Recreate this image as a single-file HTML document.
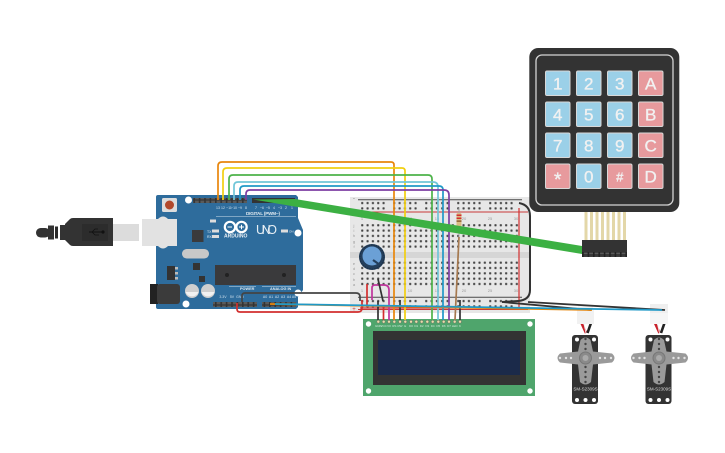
<!DOCTYPE html>
<html><head><meta charset="utf-8"><style>
html,body{margin:0;padding:0;background:#fff;width:725px;height:453px;overflow:hidden}
svg{display:block}
text{font-family:"Liberation Sans",sans-serif}
</style></head><body>
<svg width="725" height="453" viewBox="0 0 725 453" xmlns="http://www.w3.org/2000/svg">
<defs>
<pattern id="h" patternUnits="userSpaceOnUse" width="5.33" height="5.33"><rect x="1.6" y="1.6" width="2.1" height="2.1" rx=".6" fill="#444"/></pattern>
<pattern id="p" patternUnits="userSpaceOnUse" width="5.4" height="5"><rect x=".6" y=".6" width="3.8" height="3.8" fill="#5a5a5a"/></pattern>
<g id="servo">
<rect x="572" y="335" width="26" height="69" rx="3" fill="#333"/>
<circle cx="577" cy="339.5" r="2" fill="#fff"/><circle cx="594" cy="339.5" r="2" fill="#fff"/>
<circle cx="577" cy="400" r="2" fill="#fff"/><circle cx="585.5" cy="400" r="2" fill="#fff"/><circle cx="594" cy="400" r="2" fill="#fff"/>
<path d="M580.5 340 Q585.5 335 590.5 340 L593 351.500 L612 353.500 Q617 358 612 362.500 L593 364.500 L591 382 Q585.5 387 580 382 L578 364.500 L560 362.500 Q555 358 560 353.500 L578 351.500Z" fill="#9a9a9a"/>
<circle cx="585.5" cy="358" r="6" fill="#8a8a8a" stroke="#777" stroke-width="1"/><circle cx="585.5" cy="358" r="3" fill="#aaa"/>
<g fill="#444"><circle cx="585.5" cy="339" r="1.2"/><circle cx="585.5" cy="344" r="1.2"/><circle cx="585.5" cy="349" r="1.2"/><circle cx="585.5" cy="367" r="1.2"/><circle cx="585.5" cy="372" r="1.2"/><circle cx="585.5" cy="377" r="1.2"/><circle cx="585.5" cy="382" r="1.2"/></g>
<g fill="#e4e4e4"><circle cx="560" cy="358" r="1.2"/><circle cx="566" cy="358" r="1.2"/><circle cx="571" cy="358" r="1.2"/><circle cx="600" cy="358" r="1.2"/><circle cx="605" cy="358" r="1.2"/><circle cx="611" cy="358" r="1.2"/></g>
<text x="585.5" y="390.5" font-size="4.5" fill="#ddd" text-anchor="middle">SM-S2309S</text>
<path d="M581.5 323 L586 333" stroke="#c8202a" stroke-width="2.6"/><path d="M591 323 L587.5 333" stroke="#222" stroke-width="2.6"/>
<path d="M584 324 L586 333" stroke="#eee" stroke-width=".8"/>
</g>
</defs>

<!-- USB cable -->
<rect x="113" y="224" width="26" height="17" fill="#dcdcdc"/>
<rect x="36" y="228" width="14" height="9.5" rx="4.7" fill="#333"/>
<rect x="48" y="225.5" width="6" height="14" fill="#333"/><rect x="55" y="226.5" width="3" height="12" fill="#2a2a2a"/><rect x="60" y="225" width="5" height="15" fill="#333"/>
<path d="M65 224 L70 219 Q71 218 73 218 L113 218 L113 246 L73 246 Q71 246 70 245 L65 240Z" fill="#333"/>
<rect x="82" y="224" width="26" height="17" fill="#2c2c2c"/>
<path d="M89 232 H104" stroke="#111" stroke-width="1"/><circle cx="103" cy="232" r="1.6" fill="#111"/><path d="M92 232 L95 229 H98 M92 232 L95 235 H99" stroke="#111" stroke-width=".8" fill="none"/>

<!-- Arduino -->
<path d="M158 195 H296 L298 197 V218 L303 230 V290 L298 297 V307 L296 309 H158 Q156 309 156 307 V197 Q156 195 158 195Z" fill="#2e6c9c"/>
<rect x="142" y="219" width="35" height="27" fill="#e2e2e2"/>
<path d="M158 219 Q163 214 168 219Z M158 246 Q163 251 168 246Z" fill="#e2e2e2"/>
<rect x="162" y="198" width="15" height="14" rx="1.5" fill="#ddd"/><circle cx="169.5" cy="205" r="4.5" fill="#b2492c"/>
<circle cx="188.5" cy="200" r="3.5" fill="#fff"/><circle cx="298" cy="233" r="3.5" fill="#fff"/><circle cx="186" cy="304" r="3.5" fill="#fff"/><circle cx="298" cy="293" r="3.5" fill="#fff"/>
<rect x="193" y="198" width="54" height="5" fill="#333"/><rect x="193" y="198" width="54" height="5" fill="url(#p)"/>
<rect x="252" y="198" width="43" height="5" fill="#333"/>
<rect x="213" y="302" width="44" height="5" fill="#333"/><rect x="213" y="302" width="44" height="5" fill="url(#p)"/>
<rect x="262" y="302" width="34" height="5" fill="#333"/><rect x="262" y="302" width="34" height="5" fill="url(#p)"/>
<rect x="215" y="265" width="81" height="20" fill="#3a3a3c"/><circle cx="227" cy="275" r="2" fill="#222"/><circle cx="284" cy="275" r="2" fill="#222"/>
<rect x="192" y="230" width="11.5" height="12" fill="#3a3a3c"/>
<rect x="182" y="249" width="27" height="9.5" rx="4.7" fill="#c8c8c8"/>
<rect x="193" y="263" width="7" height="7" fill="#333"/><rect x="167" y="266" width="8" height="14" fill="#333"/><rect x="175" y="267" width="3" height="2.5" fill="#bbb"/><rect x="175" y="272" width="3" height="2.5" fill="#bbb"/><rect x="175" y="277" width="3" height="2.5" fill="#bbb"/>
<rect x="199" y="276" width="6" height="6" fill="#333"/>
<rect x="150" y="284" width="8" height="20" fill="#222"/><rect x="157" y="284" width="23" height="20" rx="3" fill="#3b3b3b"/>
<circle cx="192" cy="291" r="7" fill="#cfcfcf"/><path d="M185.5 292 A7 7 0 0 0 198.5 292Z" fill="#f2f2f2"/><circle cx="208" cy="291" r="7" fill="#cfcfcf"/><path d="M201.5 292 A7 7 0 0 0 214.5 292Z" fill="#f2f2f2"/>
<g fill="none" stroke="#fff" stroke-width="2.2"><circle cx="230" cy="227" r="5.2"/><circle cx="241.5" cy="227" r="5.2"/></g>
<path d="M227.5 227H232M239 227H244M241.5 224.7V229.3" stroke="#fff" stroke-width="1"/>
<text x="235.7" y="237.5" font-size="5" font-weight="bold" fill="#eaf1f6" text-anchor="middle">ARDUINO</text>
<text x="256" y="234" font-size="12.5" fill="#e6eef4" textLength="21">UNO</text>
<text x="246" y="215" font-size="4.6" font-weight="bold" fill="#dfe9f0" textLength="34">DIGITAL (PWM~)</text>
<path d="M216 216.5H296" stroke="#cfe0ec" stroke-width=".6"/>
<text x="240" y="290" font-size="3.8" font-weight="bold" fill="#dfe9f0">POWER</text><text x="270" y="290" font-size="3.8" font-weight="bold" fill="#dfe9f0">ANALOG IN</text>
<path d="M229 286.5H256M262 286.5H296" stroke="#cfe0ec" stroke-width=".5"/>
<rect x="210" y="219.5" width="6" height="3" fill="#ddd"/><rect x="212" y="229.5" width="7" height="3" fill="#ddd"/><rect x="212" y="235" width="7" height="3" fill="#ddd"/><rect x="281" y="229.5" width="7" height="3" fill="#ddd"/>
<text x="207" y="233" font-size="3.5" fill="#e6eef4">TX</text><text x="207" y="238" font-size="3.5" fill="#e6eef4">RX</text><text x="289" y="232.5" font-size="3" fill="#e6eef4">ON</text>
<g font-size="3.5" fill="#cfe0ec" text-anchor="middle"><text x="218" y="209">13</text><text x="223" y="209">12</text><text x="229" y="209">~11</text><text x="234" y="209">~10</text><text x="240" y="209">~9</text><text x="246" y="209">8</text><text x="256" y="209">7</text><text x="262" y="209">~6</text><text x="268" y="209">~5</text><text x="274" y="209">4</text><text x="280" y="209">~3</text><text x="286" y="209">2</text><text x="292" y="209">1</text></g>
<g font-size="3.5" fill="#cfe0ec" text-anchor="middle"><text x="223" y="298">3.3V</text><text x="232" y="298">5V</text><text x="240" y="298">GND</text><text x="265" y="298">A0</text><text x="271" y="298">A1</text><text x="277" y="298">A2</text><text x="283" y="298">A3</text><text x="289" y="298">A4</text><text x="294" y="298">A5</text></g>

<!-- Breadboard -->
<rect x="350" y="197" width="180" height="116" fill="#e7e7e7"/>
<rect x="350" y="252" width="180" height="6" fill="#d6d6d6"/>
<path d="M358 199.7H522M358 297.3H522" stroke="#4a4a4a" stroke-width="1"/>
<path d="M358 212H528M358 309.5H528" stroke="#c93a3a" stroke-width="1"/>
<g id="r1"><rect transform="translate(359.6,200.4)" width="26.65" height="10.66" fill="url(#h)"/><rect transform="translate(391.6,200.4)" width="26.65" height="10.66" fill="url(#h)"/><rect transform="translate(423.6,200.4)" width="26.65" height="10.66" fill="url(#h)"/><rect transform="translate(455.6,200.4)" width="26.65" height="10.66" fill="url(#h)"/><rect transform="translate(487.6,200.4)" width="26.65" height="10.66" fill="url(#h)"/></g>
<use href="#r1" y="98"/>
<rect transform="translate(359.6,222.6)" width="160" height="26.65" fill="url(#h)"/>
<rect transform="translate(359.6,260)" width="160" height="26.65" fill="url(#h)"/>
<g font-size="4" fill="#999" text-anchor="middle"><text x="354" y="227">j</text><text x="354" y="232">i</text><text x="354" y="237">h</text><text x="354" y="243">g</text><text x="354" y="248">f</text><text x="354" y="265">e</text><text x="354" y="270">d</text><text x="354" y="275">c</text><text x="354" y="281">b</text><text x="354" y="286">a</text>
<text x="362" y="220">1</text><text x="410" y="220">10</text><text x="437" y="220">15</text><text x="464" y="220">20</text><text x="490" y="220">25</text><text x="516" y="220">30</text>
<text x="362" y="292">1</text><text x="410" y="292">10</text><text x="437" y="292">15</text><text x="464" y="292">20</text><text x="490" y="292">25</text><text x="516" y="292">30</text></g>
<text x="354" y="200" font-size="5" fill="#555" text-anchor="middle">-</text>
<text x="354" y="311" font-size="6" fill="#c93a3a" text-anchor="middle">+</text>

<!-- LCD -->
<rect x="363" y="319" width="172" height="77" fill="#4fa56c"/>
<circle cx="368.5" cy="324" r="2.7" fill="#fff"/><circle cx="530" cy="324" r="2.7" fill="#fff"/><circle cx="368.5" cy="391" r="2.7" fill="#fff"/><circle cx="530" cy="391" r="2.7" fill="#fff"/>
<rect x="373" y="331" width="153" height="54" fill="#333"/><rect x="378" y="340" width="142" height="35" fill="#1b2a4a"/>
<g fill="#e9dfa8" stroke="#666" stroke-width=".5"><circle cx="378.3" cy="321.7" r="1.5"/><circle cx="383.7" cy="321.7" r="1.5"/><circle cx="389" cy="321.7" r="1.5"/><circle cx="394.3" cy="321.7" r="1.5"/><circle cx="400" cy="321.7" r="1.5"/><circle cx="405.3" cy="321.7" r="1.5"/><circle cx="411" cy="321.7" r="1.5"/><circle cx="416.3" cy="321.7" r="1.5"/><circle cx="421.7" cy="321.7" r="1.5"/><circle cx="427.3" cy="321.7" r="1.5"/><circle cx="432.7" cy="321.7" r="1.5"/><circle cx="438.3" cy="321.7" r="1.5"/><circle cx="443.7" cy="321.7" r="1.5"/><circle cx="449" cy="321.7" r="1.5"/><circle cx="454.7" cy="321.7" r="1.5"/><circle cx="460" cy="321.7" r="1.5"/></g>
<g font-size="3" fill="#cfe8d8" text-anchor="middle"><text x="378.3" y="327">GND</text><text x="383.7" y="327">VCC</text><text x="389" y="327">V0</text><text x="394.3" y="327">RS</text><text x="400" y="327">RW</text><text x="405.3" y="327">E</text><text x="411" y="327">D0</text><text x="416.3" y="327">D1</text><text x="421.7" y="327">D2</text><text x="427.3" y="327">D3</text><text x="432.7" y="327">D4</text><text x="438.3" y="327">D5</text><text x="443.7" y="327">D6</text><text x="449" y="327">D7</text><text x="454.7" y="327">LED</text><text x="460" y="327">K</text></g>

<!-- Potentiometer -->
<circle cx="372" cy="257" r="13" fill="#243f5c"/><circle cx="372" cy="257" r="12" fill="none" stroke="#1c2f45" stroke-width="1" stroke-dasharray="1.5 1"/><circle cx="372" cy="256" r="9.5" fill="#6ba0d6"/>
<path d="M373 260L380 265" stroke="#243f5c" stroke-width="2.2"/>

<!-- Breadboard and LCD wires -->
<g fill="none" stroke-width="1.7" stroke-linejoin="round">
<path d="M367 284V307" stroke="#d32f2f"/>
<path d="M519 208V308H360" stroke="#d32f2f" stroke-width="1.2"/>
<path d="M372 300V288Q372 285 375 285H384Q389 285 389 290V320" stroke="#c0349c"/>
<path d="M378 279L383 301" stroke="#333"/>
<path d="M378 301V320M400 300V320M460 300V320" stroke="#333"/>
<path d="M383.5 305V320" stroke="#d32f2f"/>
<path d="M459 237L455 320" stroke="#a5794f"/>
<path d="M237 303V309Q237 312 240 312H358Q362 312 362 308V300" stroke="#d32f2f"/>
<path d="M242 302V296Q242 293 245 293H356Q360 293 360 297V301" stroke="#444"/>
<path d="M519 203Q530 205 530 216V290Q530 300 518 301L502 302" stroke="#333" stroke-width="2"/>
<path d="M218 200V166Q218 162 222 162H391Q394 162 394 165V320" stroke="#e8860c"/>
<path d="M223 200V172Q223 168 227 168H402Q405 168 405 171V320" stroke="#f1cf10"/>
<path d="M229 200V179Q229 175 233 175H428Q432 175 432 179V320" stroke="#4db34a"/>
<path d="M234 200V186Q234 182 238 182H433Q438 182 438 187V320" stroke="#70c6d8"/>
<path d="M240 200V190Q240 186 244 186H439Q443 186 443 190V320" stroke="#2099c7"/>
<path d="M246 200V194Q246 190 250 190H444Q449 190 449 195V320" stroke="#7d3ea3"/>
</g>

<!-- Resistor -->
<path d="M459 208V237" stroke="#aaa" stroke-width="1"/>
<rect x="456.5" y="213" width="5" height="14" rx="1.5" fill="#d8bd83"/>
<rect x="456.5" y="214.5" width="5" height="1.5" fill="#d32f2f"/><rect x="456.5" y="217.5" width="5" height="1.5" fill="#d32f2f"/><rect x="456.5" y="220.5" width="5" height="1.2" fill="#7a4a20"/>

<!-- Servos -->
<use href="#servo"/><use href="#servo" x="73.5"/>
<rect x="577" y="310" width="17" height="14" fill="#f1f1f1"/><rect x="578" y="305" width="15" height="5" fill="#f4f4f4"/>
<rect x="650" y="304" width="18" height="20" fill="#efefef"/><rect x="650" y="313" width="18" height="11" fill="#f6f6f6"/>

<!-- Long wires to servos -->
<g fill="none" stroke-width="1.8">
<path d="M502 302L591 310" stroke="#333"/>
<path d="M528 302L665 310" stroke="#333"/>
<path d="M270 304L592 310" stroke="#e8860c"/>
<path d="M275 304L662 310" stroke="#2099c7"/>
</g>

<!-- Keypad -->
<rect x="529.3" y="48" width="150" height="164" rx="9" fill="#333"/>
<rect x="536" y="55" width="137" height="150" rx="6" fill="none" stroke="#d4d4d4" stroke-width="1.3"/>
<g stroke="#d8d8d8" stroke-width="1">
<rect x="545.5" y="71" width="24.5" height="24.5" rx="1.5" fill="#9bd0e8"/><rect x="576.5" y="71" width="24.5" height="24.5" rx="1.5" fill="#9bd0e8"/><rect x="607.5" y="71" width="24.5" height="24.5" rx="1.5" fill="#9bd0e8"/><rect x="638.5" y="71" width="24.5" height="24.5" rx="1.5" fill="#e79a9d"/>
<rect x="545.5" y="102" width="24.5" height="24.5" rx="1.5" fill="#9bd0e8"/><rect x="576.5" y="102" width="24.5" height="24.5" rx="1.5" fill="#9bd0e8"/><rect x="607.5" y="102" width="24.5" height="24.5" rx="1.5" fill="#9bd0e8"/><rect x="638.5" y="102" width="24.5" height="24.5" rx="1.5" fill="#e79a9d"/>
<rect x="545.5" y="133" width="24.5" height="24.5" rx="1.5" fill="#9bd0e8"/><rect x="576.5" y="133" width="24.5" height="24.5" rx="1.5" fill="#9bd0e8"/><rect x="607.5" y="133" width="24.5" height="24.5" rx="1.5" fill="#9bd0e8"/><rect x="638.5" y="133" width="24.5" height="24.5" rx="1.5" fill="#e79a9d"/>
<rect x="545.5" y="164" width="24.5" height="24.5" rx="1.5" fill="#e79a9d"/><rect x="576.5" y="164" width="24.5" height="24.5" rx="1.5" fill="#9bd0e8"/><rect x="607.5" y="164" width="24.5" height="24.5" rx="1.5" fill="#e79a9d"/><rect x="638.5" y="164" width="24.5" height="24.5" rx="1.5" fill="#e79a9d"/>
</g>
<g font-size="17" fill="#f1f1f1" stroke="#f1f1f1" stroke-width=".35" text-anchor="middle">
<text x="557.7" y="89.5">1</text><text x="588.7" y="89.5">2</text><text x="619.7" y="89.5">3</text><text x="650.7" y="89.5">A</text>
<text x="557.7" y="120.5">4</text><text x="588.7" y="120.5">5</text><text x="619.7" y="120.5">6</text><text x="650.7" y="120.5">B</text>
<text x="557.7" y="151.5">7</text><text x="588.7" y="151.5">8</text><text x="619.7" y="151.5">9</text><text x="650.7" y="151.5">C</text>
<text x="557.7" y="186" font-size="19">*</text><text x="588.7" y="182.5">0</text><text x="619.7" y="181.5" font-size="13">#</text><text x="650.7" y="182.5">D</text>
</g>
<g fill="#e3d7a8"><rect x="584.5" y="212" width="3" height="30"/><rect x="590" y="212" width="3" height="30"/><rect x="595.5" y="212" width="3" height="30"/><rect x="601" y="212" width="3" height="30"/><rect x="606.5" y="212" width="3" height="30"/><rect x="612" y="212" width="3" height="30"/><rect x="617.5" y="212" width="3" height="30"/><rect x="623" y="212" width="3" height="30"/></g>
<rect x="582" y="240" width="45" height="17" fill="#333"/><rect x="582" y="252" width="45" height="5" fill="#222"/>
<rect x="583" y="252.5" width="43.5" height="4" fill="url(#p)"/>

<!-- Thick green wire -->
<path d="M253 199.5L295 199L582 246V254L296 206.7Z" fill="#3cb043"/>
</svg>
</body></html>
